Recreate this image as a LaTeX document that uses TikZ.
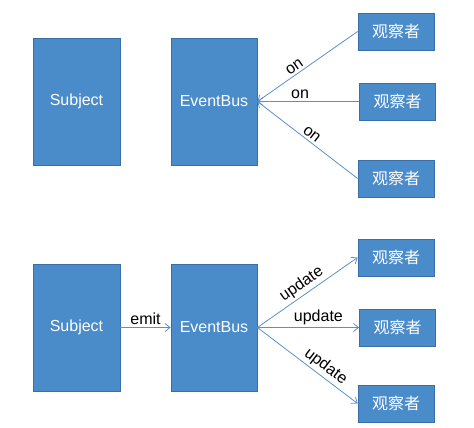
\documentclass[tikz,border=0pt]{standalone}
\usepackage{fontspec}
\setmainfont{Liberation Sans}
\newfontfamily\cjk{Noto Sans CJK SC}
\usetikzlibrary{arrows.meta}
\definecolor{boxblue}{HTML}{4A8BCA}
\definecolor{boxedge}{HTML}{3A6EA6}
\definecolor{linkblue}{HTML}{5B90C9}
\begin{document}
\begin{tikzpicture}[x=1pt,y=-1pt,font=\fontsize{16}{19}\selectfont,
  block/.style={fill=boxblue,draw=boxedge,thick,text=white,minimum width=#1,minimum height=127pt,inner sep=0pt},
  obs/.style={fill=boxblue,draw=boxedge,thick,text=white,minimum width=76pt,minimum height=37pt,inner sep=0pt,font=\fontsize{16}{19}\selectfont\cjk},
  link/.style={draw=linkblue,thick},
  tip/.style={-{Straight Barb[length=5pt,width=8pt]}}]
\useasboundingbox (0,0) rectangle (474,428);
% top: observers register with on
\node[block=87pt] (subj1) at (76.5,101.5) {Subject};
\node[block=86pt] (bus1) at (214,101.5) {EventBus};
\node[obs] (oa) at (396,31.5) {观察者};
\node[obs] (ob) at (397.5,101.5) {观察者};
\node[obs] (oc) at (396,178.5) {观察者};
\draw[link,tip] (oa.west) -- (bus1.east);
\draw[link,tip] (ob.west) -- (bus1.east);
\draw[link,tip] (oc.west) -- (bus1.east);
\path (bus1.east) -- node[pos=.41,sloped,above=-1pt] {on} (oa.west);
\path (bus1.east) -- node[pos=.42,above=-1pt] {on} (ob.west);
\path (bus1.east) -- node[pos=.5,sloped,above=-1pt] {on} (oc.west);
% bottom: emit goes through the bus
\node[block=87pt] (subj2) at (76.5,327.5) {Subject};
\node[block=86pt] (bus2) at (214,327.5) {EventBus};
\node[obs] (od) at (396,257.5) {观察者};
\node[obs] (oe) at (397.5,327.5) {观察者};
\node[obs] (of) at (396,403.5) {观察者};
\draw[link,tip] (subj2) -- node[above=-1pt,text=black] {emit} (bus2);
\draw[link,tip] (bus2.east) -- node[pos=.5,sloped,above=-1pt] {update} (od.west);
\draw[link,tip] (bus2.east) -- node[pos=.6,above=-1pt] {update} (oe.west);
\draw[link,tip] (bus2.east) -- node[pos=.62,sloped,above=-1pt] {update} (of.west);
\end{tikzpicture}
\end{document}
